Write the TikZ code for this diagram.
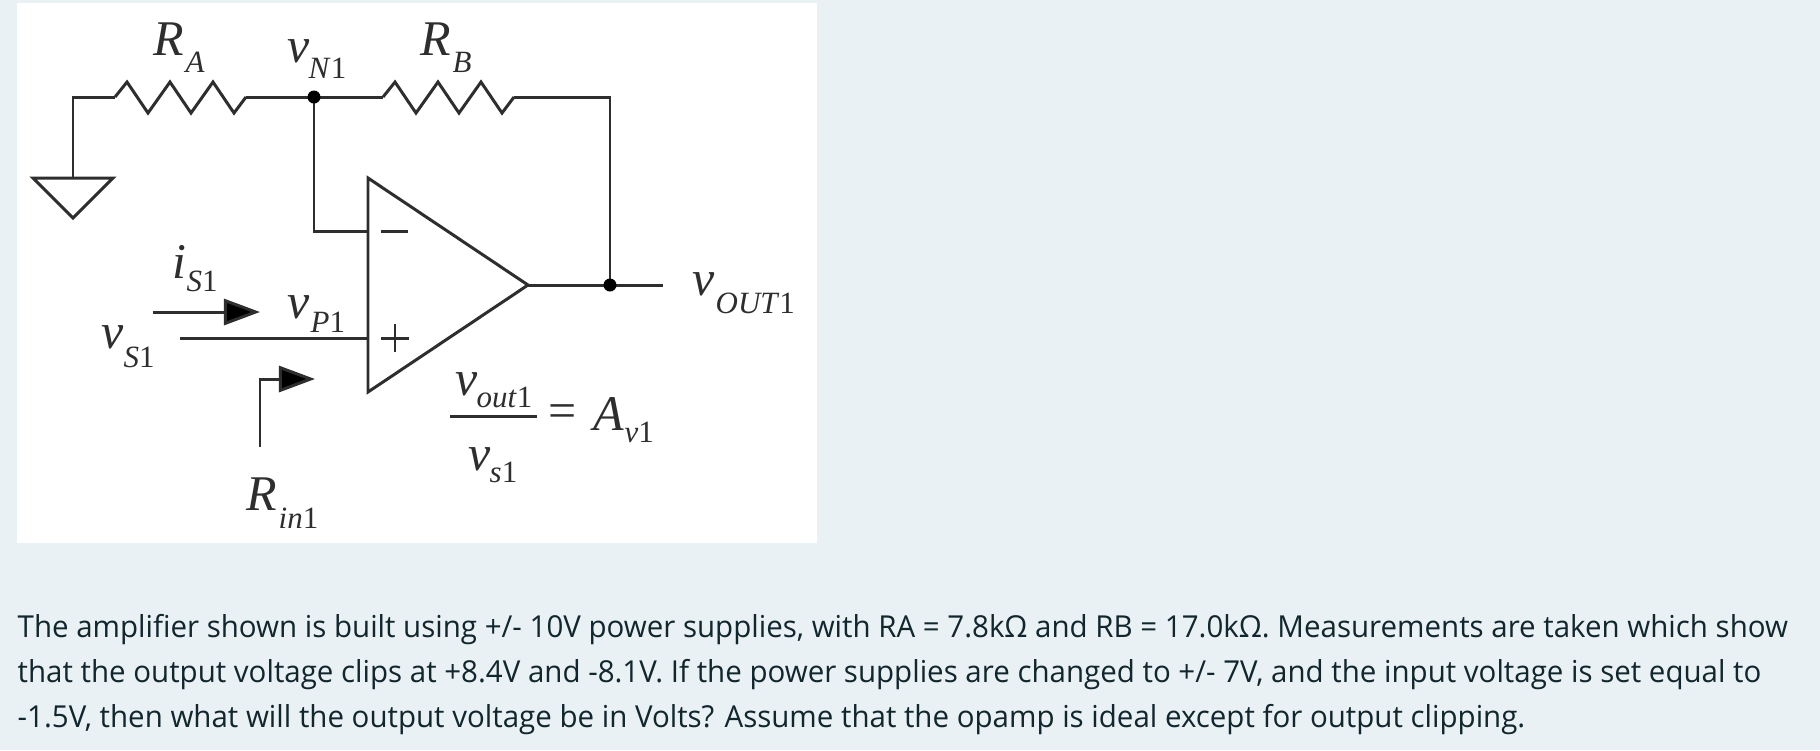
\documentclass[tikz,border=0pt]{standalone}
\usepackage{fontspec}
\setmainfont{Liberation Serif}
\newfontfamily\bodyfont[FakeStretch=.975]{Open Sans}
\usetikzlibrary{arrows.meta}

\definecolor{pagebg}{HTML}{E9F1F5}
\definecolor{inkwire}{HTML}{2E2E2E}
\definecolor{inktext}{HTML}{12262E}

\tikzset{
  wire/.style={draw=inkwire, line width=.85pt, line join=miter},
  flow/.style={wire, -{Triangle[length=.36cm,width=.26cm,fill=black]}},
  bigl/.style={anchor=base west, inner sep=0, text=inkwire, font=\fontsize{14.2}{16}\selectfont\itshape},
  subl/.style={anchor=base west, inner sep=0, text=inkwire, font=\fontsize{8.8}{11}\selectfont},
  bodyl/.style={anchor=base west, inner sep=0, text=inktext, font=\fontsize{8.6}{12}\bodyfont},
}

\begin{document}
\begin{tikzpicture}[x=.01cm, y=-.01cm]

\fill [pagebg] (0,0) rectangle (1820,750);
\fill [white] (17,3) rectangle (817,543);
\useasboundingbox (0,0) rectangle (1820,750);

\coordinate (gndtop) at (73,178);
\coordinate (gndl) at (33,178);
\coordinate (gndr) at (113,178);
\coordinate (gndb) at (73,218);
\coordinate (corner) at (73,97);
\coordinate (ra) at (115,97);
\coordinate (raend) at (246,97);
\coordinate (nodeN) at (314,97);
\coordinate (rb) at (383,97);
\coordinate (rbend) at (514,97);
\coordinate (fbtop) at (610,97);
\coordinate (nodeO) at (610,285);
\coordinate (ampT) at (368,178);
\coordinate (ampB) at (368,392);
\coordinate (ampO) at (528,285);
\coordinate (outend) at (663,285);
\coordinate (invc) at (314,231);
\coordinate (inv) at (368,231);
\coordinate (src) at (180,338);
\coordinate (non) at (368,338);

% ground and feedback
\draw [wire] (gndl) -- (gndr) -- (gndb) -- cycle;
\draw [wire] (gndtop) -- (corner) -- (ra);
\draw [wire] (ra) -- ++(12,-15) -- ++(21,31) -- ++(22,-31) -- ++(21,31) -- ++(22,-31) -- ++(21,31) -- (raend);
\draw [wire] (raend) -- (nodeN) -- (rb);
\draw [wire] (rb) -- ++(12,-15) -- ++(21,31) -- ++(22,-31) -- ++(21,31) -- ++(22,-31) -- ++(21,31) -- (rbend);
\draw [wire] (rbend) -- (fbtop) -- (nodeO);

% opamp
\draw [wire] (ampT) -- (ampO) -- (ampB) -- cycle;
\draw [wire] (nodeN) -- (invc) -- (inv);
\draw [wire] (src) -- (non);
\draw [wire] (ampO) -- (outend);
\draw [wire] (381,231) -- (408,231);
\draw [wire] (381,338) -- (409,338);
\draw [wire] (395,324) -- (395,352);

\fill [black] (nodeN) circle (6.5);
\fill [black] (nodeO) circle (6.5);

% arrows
\coordinate (isa) at (153,312);
\coordinate (isb) at (260,312);
\coordinate (rina) at (260,447);
\coordinate (rinc) at (260,379);
\coordinate (rinb) at (315,379);
\draw [flow] (isa) -- (isb);
\draw [flow] (rina) -- (rinc) -- (rinb);

% labels
\node [bigl] (lRA) at (153,55) {R};
\node [subl] (lRAs) at (185,72) {\textit{A}};
\node [bigl] (lvN) at (287,62) {v};
\node [subl] (lvNs) at (308,78) {\textit{N}1};
\node [bigl] (lRB) at (420,55) {R};
\node [subl] (lRBs) at (452,72) {\textit{B}};
\node [bigl] (lis) at (172,278) {i};
\node [subl] (liss) at (186,291) {\textit{S}1};
\node [bigl] (lvP) at (287,318) {v};
\node [subl] (lvPs) at (310,332) {\textit{P}1};
\node [bigl] (lvS) at (101,348) {v};
\node [subl] (lvSs) at (123,367) {\textit{S}1};
\node [bigl] (lRin) at (246,510) {R};
\node [subl] (lRins) at (278,528) {\textit{in}1};
\node [bigl] (lvO) at (692,295) {v};
\node [subl] (lvOs) at (715,313) {\textit{OUT}1};

% gain
\coordinate (fraca) at (450,416);
\coordinate (fracb) at (537,416);
\draw [wire] (fraca) -- (fracb);
\node [bigl] (lvo) at (455,395) {v};
\node [subl] (lvos) at (476,407) {\textit{out}1};
\node [bigl] (lvs) at (468,470) {v};
\node [subl] (lvss) at (489,482) {\textit{s}1};
\node [bigl, font=\fontsize{14.2}{16}\selectfont] (leq) at (548,427) {=};
\node [bigl] (lAv) at (593,430) {A};
\node [subl] (lAvs) at (624,442) {\textit{v}1};

% question
\node [bodyl] (textA) at (17,637) {The amplifier shown is built using +/- 10V power supplies, with RA = 7.8kΩ and RB = 17.0kΩ. Measurements are taken which show};
\node [bodyl] (textB) at (17,682) {that the output voltage clips at +8.4V and -8.1V. If the power supplies are changed to +/- 7V, and the input voltage is set equal to};
\node [bodyl] (textC) at (17,727) {-1.5V, then what will the output voltage be in Volts? Assume that the opamp is ideal except for output clipping.};
\end{tikzpicture}
\end{document}
